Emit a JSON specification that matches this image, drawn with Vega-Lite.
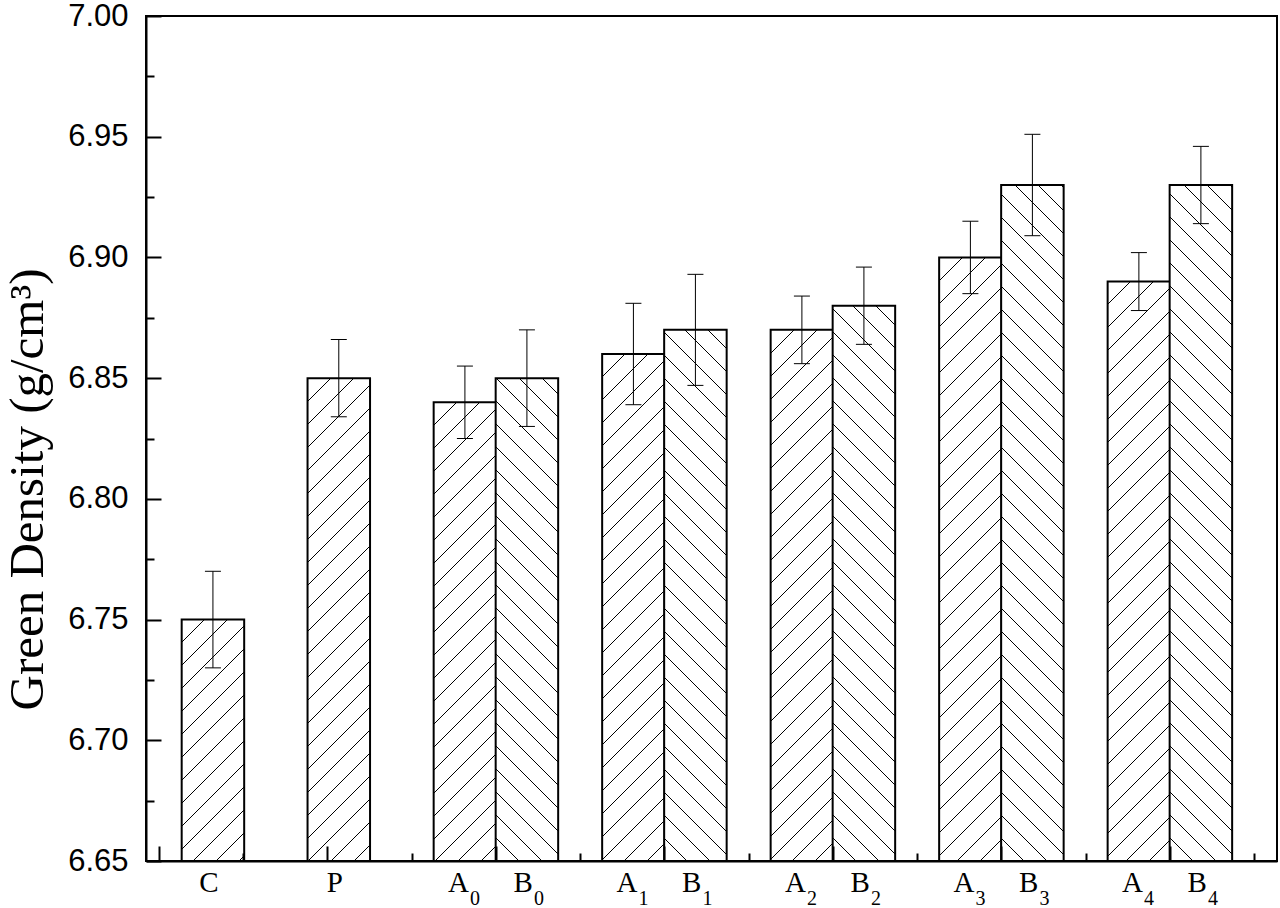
{
  "$schema": "https://vega.github.io/schema/vega-lite/v6.json",
  "width": 1131,
  "height": 845,
  "autosize": "none",
  "padding": {"left": 146, "top": 16, "right": 3, "bottom": 47},
  "background": "white",
  "config": {
    "view": {"stroke": "black", "strokeWidth": 2},
    "axis": {"grid": false}
  },
  "params": [
    {"name": "stripes", "value": [
      {"offset": 0, "color": "#fff"},
      {"offset": 0.02795, "color": "#fff"}, {"offset": 0.02795, "color": "#000"}, {"offset": 0.02919, "color": "#000"}, {"offset": 0.02919, "color": "#fff"},
      {"offset": 0.05652, "color": "#fff"}, {"offset": 0.05652, "color": "#000"}, {"offset": 0.05776, "color": "#000"}, {"offset": 0.05776, "color": "#fff"},
      {"offset": 0.08509, "color": "#fff"}, {"offset": 0.08509, "color": "#000"}, {"offset": 0.08634, "color": "#000"}, {"offset": 0.08634, "color": "#fff"},
      {"offset": 0.11366, "color": "#fff"}, {"offset": 0.11366, "color": "#000"}, {"offset": 0.11491, "color": "#000"}, {"offset": 0.11491, "color": "#fff"},
      {"offset": 0.14224, "color": "#fff"}, {"offset": 0.14224, "color": "#000"}, {"offset": 0.14348, "color": "#000"}, {"offset": 0.14348, "color": "#fff"},
      {"offset": 0.17081, "color": "#fff"}, {"offset": 0.17081, "color": "#000"}, {"offset": 0.17205, "color": "#000"}, {"offset": 0.17205, "color": "#fff"},
      {"offset": 0.19938, "color": "#fff"}, {"offset": 0.19938, "color": "#000"}, {"offset": 0.20062, "color": "#000"}, {"offset": 0.20062, "color": "#fff"},
      {"offset": 0.22795, "color": "#fff"}, {"offset": 0.22795, "color": "#000"}, {"offset": 0.22919, "color": "#000"}, {"offset": 0.22919, "color": "#fff"},
      {"offset": 0.25652, "color": "#fff"}, {"offset": 0.25652, "color": "#000"}, {"offset": 0.25776, "color": "#000"}, {"offset": 0.25776, "color": "#fff"},
      {"offset": 0.28509, "color": "#fff"}, {"offset": 0.28509, "color": "#000"}, {"offset": 0.28634, "color": "#000"}, {"offset": 0.28634, "color": "#fff"},
      {"offset": 0.31366, "color": "#fff"}, {"offset": 0.31366, "color": "#000"}, {"offset": 0.31491, "color": "#000"}, {"offset": 0.31491, "color": "#fff"},
      {"offset": 0.34224, "color": "#fff"}, {"offset": 0.34224, "color": "#000"}, {"offset": 0.34348, "color": "#000"}, {"offset": 0.34348, "color": "#fff"},
      {"offset": 0.37081, "color": "#fff"}, {"offset": 0.37081, "color": "#000"}, {"offset": 0.37205, "color": "#000"}, {"offset": 0.37205, "color": "#fff"},
      {"offset": 0.39938, "color": "#fff"}, {"offset": 0.39938, "color": "#000"}, {"offset": 0.40062, "color": "#000"}, {"offset": 0.40062, "color": "#fff"},
      {"offset": 0.42795, "color": "#fff"}, {"offset": 0.42795, "color": "#000"}, {"offset": 0.42919, "color": "#000"}, {"offset": 0.42919, "color": "#fff"},
      {"offset": 0.45652, "color": "#fff"}, {"offset": 0.45652, "color": "#000"}, {"offset": 0.45776, "color": "#000"}, {"offset": 0.45776, "color": "#fff"},
      {"offset": 0.48509, "color": "#fff"}, {"offset": 0.48509, "color": "#000"}, {"offset": 0.48634, "color": "#000"}, {"offset": 0.48634, "color": "#fff"},
      {"offset": 0.51366, "color": "#fff"}, {"offset": 0.51366, "color": "#000"}, {"offset": 0.51491, "color": "#000"}, {"offset": 0.51491, "color": "#fff"},
      {"offset": 0.54224, "color": "#fff"}, {"offset": 0.54224, "color": "#000"}, {"offset": 0.54348, "color": "#000"}, {"offset": 0.54348, "color": "#fff"},
      {"offset": 0.57081, "color": "#fff"}, {"offset": 0.57081, "color": "#000"}, {"offset": 0.57205, "color": "#000"}, {"offset": 0.57205, "color": "#fff"},
      {"offset": 0.59938, "color": "#fff"}, {"offset": 0.59938, "color": "#000"}, {"offset": 0.60062, "color": "#000"}, {"offset": 0.60062, "color": "#fff"},
      {"offset": 0.62795, "color": "#fff"}, {"offset": 0.62795, "color": "#000"}, {"offset": 0.62919, "color": "#000"}, {"offset": 0.62919, "color": "#fff"},
      {"offset": 0.65652, "color": "#fff"}, {"offset": 0.65652, "color": "#000"}, {"offset": 0.65776, "color": "#000"}, {"offset": 0.65776, "color": "#fff"},
      {"offset": 0.68509, "color": "#fff"}, {"offset": 0.68509, "color": "#000"}, {"offset": 0.68634, "color": "#000"}, {"offset": 0.68634, "color": "#fff"},
      {"offset": 0.71366, "color": "#fff"}, {"offset": 0.71366, "color": "#000"}, {"offset": 0.71491, "color": "#000"}, {"offset": 0.71491, "color": "#fff"},
      {"offset": 0.74224, "color": "#fff"}, {"offset": 0.74224, "color": "#000"}, {"offset": 0.74348, "color": "#000"}, {"offset": 0.74348, "color": "#fff"},
      {"offset": 0.77081, "color": "#fff"}, {"offset": 0.77081, "color": "#000"}, {"offset": 0.77205, "color": "#000"}, {"offset": 0.77205, "color": "#fff"},
      {"offset": 0.79938, "color": "#fff"}, {"offset": 0.79938, "color": "#000"}, {"offset": 0.80062, "color": "#000"}, {"offset": 0.80062, "color": "#fff"},
      {"offset": 0.82795, "color": "#fff"}, {"offset": 0.82795, "color": "#000"}, {"offset": 0.82919, "color": "#000"}, {"offset": 0.82919, "color": "#fff"},
      {"offset": 0.85652, "color": "#fff"}, {"offset": 0.85652, "color": "#000"}, {"offset": 0.85776, "color": "#000"}, {"offset": 0.85776, "color": "#fff"},
      {"offset": 0.88509, "color": "#fff"}, {"offset": 0.88509, "color": "#000"}, {"offset": 0.88634, "color": "#000"}, {"offset": 0.88634, "color": "#fff"},
      {"offset": 0.91366, "color": "#fff"}, {"offset": 0.91366, "color": "#000"}, {"offset": 0.91491, "color": "#000"}, {"offset": 0.91491, "color": "#fff"},
      {"offset": 0.94224, "color": "#fff"}, {"offset": 0.94224, "color": "#000"}, {"offset": 0.94348, "color": "#000"}, {"offset": 0.94348, "color": "#fff"},
      {"offset": 0.97081, "color": "#fff"}, {"offset": 0.97081, "color": "#000"}, {"offset": 0.97205, "color": "#000"}, {"offset": 0.97205, "color": "#fff"},
      {"offset": 1, "color": "#fff"}
    ]}
  ],
  "data": {"values": [
    {"series": "C", "sub": "", "xc": 0.641, "v": 6.75, "lo": 6.730, "hi": 6.770},
    {"series": "P", "sub": "", "xc": 2.135, "v": 6.85, "lo": 6.834, "hi": 6.866},
    {"series": "A", "sub": "0", "xc": 3.632, "v": 6.84, "lo": 6.825, "hi": 6.855},
    {"series": "B", "sub": "0", "xc": 4.368, "v": 6.85, "lo": 6.830, "hi": 6.870},
    {"series": "A", "sub": "1", "xc": 5.632, "v": 6.86, "lo": 6.839, "hi": 6.881},
    {"series": "B", "sub": "1", "xc": 6.368, "v": 6.87, "lo": 6.847, "hi": 6.893},
    {"series": "A", "sub": "2", "xc": 7.632, "v": 6.87, "lo": 6.856, "hi": 6.884},
    {"series": "B", "sub": "2", "xc": 8.368, "v": 6.88, "lo": 6.864, "hi": 6.896},
    {"series": "A", "sub": "3", "xc": 9.632, "v": 6.90, "lo": 6.885, "hi": 6.915},
    {"series": "B", "sub": "3", "xc": 10.368, "v": 6.93, "lo": 6.909, "hi": 6.951},
    {"series": "A", "sub": "4", "xc": 11.632, "v": 6.89, "lo": 6.878, "hi": 6.902},
    {"series": "B", "sub": "4", "xc": 12.368, "v": 6.93, "lo": 6.914, "hi": 6.946}
  ]},
  "layer": [
    {
      "mark": {
        "type": "bar",
        "width": 62.5,
        "stroke": "black",
        "strokeWidth": 2,
        "fill": {"expr": "{id: 'hatch_' + datum.series + datum.sub, gradient: 'linear', x1: 0, y1: (datum.series == 'B' ? 1 : 0), x2: 805 * 62.5 / (3906.25 + pow(scale('y', 6.65) - scale('y', datum.v), 2)), y2: (datum.series == 'B' ? 1 - 805 * (scale('y', 6.65) - scale('y', datum.v)) / (3906.25 + pow(scale('y', 6.65) - scale('y', datum.v), 2)) : 805 * (scale('y', 6.65) - scale('y', datum.v)) / (3906.25 + pow(scale('y', 6.65) - scale('y', datum.v), 2))), stops: stripes}"}
      },
      "encoding": {
        "x": {
          "field": "xc", "type": "quantitative",
          "scale": {"domain": [-0.0941, 13.212], "nice": false, "zero": false},
          "axis": {
            "title": null,
            "values": [0, 1, 2, 3, 4, 5, 6, 7, 8, 9, 10, 11, 12, 13],
            "labels": false,
            "tickSize": {"condition": {"test": "datum.value % 2 == 0", "value": -15}, "value": -8},
            "tickWidth": 2,
            "tickColor": "black",
            "domainColor": "black",
            "domainWidth": 2,
            "zindex": 1
          }
        },
        "y": {
          "field": "v", "type": "quantitative",
          "scale": {"domain": [6.65, 7.0], "nice": false, "zero": false},
          "axis": {
            "title": "Green Density (g/cm³)",
            "titleFont": "Liberation Serif",
            "titleFontSize": 49,
            "titleFontWeight": "normal",
            "titleColor": "black",
            "titleAngle": -90,
            "titleAlign": "center",
            "titleBaseline": "alphabetic",
            "titleX": -104,
            "titleY": 473,
            "values": [6.65, 6.675, 6.7, 6.725, 6.75, 6.775, 6.8, 6.825, 6.85, 6.875, 6.9, 6.925, 6.95, 6.975, 7.0],
            "labelExpr": "round(datum.value * 40) % 2 == 0 ? format(datum.value, '.2f') : ''",
            "labelFont": "Liberation Sans",
            "labelFontSize": 31,
            "labelColor": "black",
            "labelPadding": 33,
            "labelOverlap": false,
            "tickSize": {"condition": {"test": "round(datum.value * 40) % 2 == 0", "value": -15}, "value": -8},
            "tickWidth": 2,
            "tickColor": "black",
            "domainColor": "black",
            "domainWidth": 2,
            "zindex": 1
          }
        },
        "y2": {"datum": 6.65}
      }
    },
    {
      "mark": {"type": "rule", "color": "black", "strokeWidth": 1},
      "encoding": {
        "x": {"field": "xc", "type": "quantitative"},
        "y": {"field": "lo", "type": "quantitative"},
        "y2": {"field": "hi"}
      }
    },
    {
      "mark": {"type": "tick", "orient": "horizontal", "size": 16, "thickness": 1, "color": "black", "opacity": 1},
      "encoding": {
        "x": {"field": "xc", "type": "quantitative"},
        "y": {"field": "hi", "type": "quantitative"}
      }
    },
    {
      "mark": {"type": "tick", "orient": "horizontal", "size": 16, "thickness": 1, "color": "black", "opacity": 1},
      "encoding": {
        "x": {"field": "xc", "type": "quantitative"},
        "y": {"field": "lo", "type": "quantitative"}
      }
    },
    {
      "mark": {
        "type": "text", "font": "Liberation Serif", "fontSize": 29, "color": "black",
        "baseline": "alphabetic", "dy": 31,
        "align": {"expr": "datum.sub == '' ? 'center' : 'right'"},
        "dx": {"expr": "datum.sub == '' ? -4 : (datum.series == 'A' ? 4 : 6)"}
      },
      "encoding": {
        "x": {"field": "xc", "type": "quantitative"},
        "y": {"datum": 6.65, "type": "quantitative"},
        "text": {"field": "series"}
      }
    },
    {
      "transform": [{"filter": "datum.sub != ''"}],
      "mark": {
        "type": "text", "font": "Liberation Serif", "fontSize": 20, "color": "black",
        "baseline": "alphabetic", "dy": 44, "align": "left",
        "dx": {"expr": "datum.series == 'A' ? 5 : 7"}
      },
      "encoding": {
        "x": {"field": "xc", "type": "quantitative"},
        "y": {"datum": 6.65, "type": "quantitative"},
        "text": {"field": "sub"}
      }
    }
  ]
}
